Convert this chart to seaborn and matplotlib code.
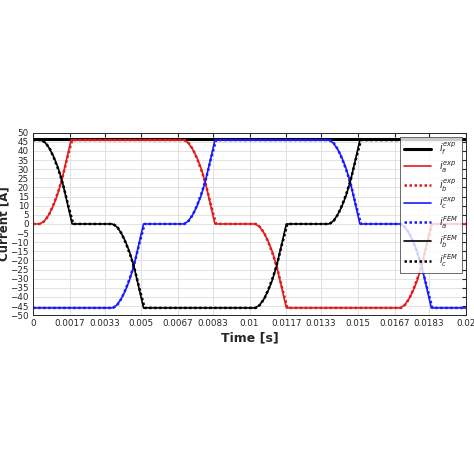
import numpy as np
import pandas as pd
import matplotlib
matplotlib.use("Agg")
import matplotlib.pyplot as plt
import seaborn as sns

sns.set_style("white")
plt.rcParams['font.family'] = ['DejaVu Sans']

# transition shape (ms offsets, fraction of step)
shape_off = [0, 0.2, 0.4, 0.6, 0.8, 1.0, 1.2, 1.45]
shape_exp = [0, 0.03, 0.10, 0.20, 0.33, 0.50, 0.72, 1.0]
shape_fem = [0, 0.04, 0.12, 0.24, 0.38, 0.55, 0.76, 1.0]

# (end time ms, from level, to level)
a_steps = [(1.75, 0, 46), (8.4, 46, 0), (11.7, 0, -46), (18.4, -46, 0)]
b_steps = [(1.8, 46, 0), (5.1, 0, -46), (11.7, -46, 0), (15.1, 0, 46)]
c_steps = [(5.1, -46, 0), (8.4, 0, 46), (15.1, 46, 0), (18.4, 0, -46)]
a_init, b_init, c_init = 0, 46, -46
if_level = 46.3
t_end = 20.0

def build(init, steps, shape, shift):
    t = [0.0]; v = [init]
    for end, f, to in steps:
        s = end + shift - shape_off[-1]
        for o, fr in zip(shape_off, shape):
            t.append(s + o); v.append(f + (to - f) * fr)
    t.append(t_end); v.append(v[-1])
    return np.array(t) / 1000, np.array(v)

fig = plt.figure(figsize=(4.74, 4.74), dpi=100)
ax = fig.add_axes([0.07, 0.335, 0.913, 0.385])

DOT = (0, (1, 1))
series = [
    ("$i_f^{exp}$", [0, t_end / 1000], [if_level, if_level], "black", "-", 2.2),
]
ta, va = build(a_init, a_steps, shape_exp, 0)
tb, vb = build(a_init, a_steps, shape_fem, 0.05)
series.append(("$i_a^{exp}$", ta, va, "#e41a1c", "-", 1.2))
series.append(("$i_b^{exp}$", tb, vb, "#e41a1c", DOT, 1.8))
tc, vc = build(c_init, c_steps, shape_exp, 0)
tcf, vcf = build(c_init, c_steps, shape_fem, 0.05)
series.append(("$i_c^{exp}$", tc, vc, "#1a1aff", "-", 1.2))
series.append(("$i_a^{FEM}$", tcf, vcf, "#1a1aff", DOT, 1.8))
tbb, vbb = build(b_init, b_steps, shape_exp, 0)
tbf, vbf = build(b_init, b_steps, shape_fem, 0.05)
series.append(("$i_b^{FEM}$", tbb, vbb, "black", "-", 1.2))
series.append(("$i_c^{FEM}$", tbf, vbf, "black", DOT, 1.8))

for lab, t, v, col, ls, lw in series:
    sns.lineplot(x=t, y=v, ax=ax, color=col, linestyle=ls, linewidth=lw,
                 label=lab, sort=False, estimator=None)

xt = [0, 0.0017, 0.0033, 0.005, 0.0067, 0.0083, 0.01, 0.0117, 0.0133,
      0.015, 0.0167, 0.0183, 0.02]
ax.set_xticks(xt)
ax.set_xticklabels(["0", "0.0017", "0.0033", "0.005", "0.0067", "0.0083", "0.01",
                    "0.0117", "0.0133", "0.015", "0.0167", "0.0183", "0.02"])
ax.set_yticks(range(-50, 51, 5))
ax.set_xlim(0, 0.02)
ax.set_ylim(-50, 50)
ax.tick_params(direction="in", labelsize=6.3, length=3, top=True, right=True,
               colors="#262626", pad=3)
ax.grid(True, color="#dddddd", linewidth=0.6)
for s in ax.spines.values():
    s.set_color("#262626"); s.set_linewidth(0.7)
ax.set_xlabel("Time [s]", fontsize=9, fontweight="bold", labelpad=2)
ax.set_ylabel("Current [A]", fontsize=8.5, fontweight="bold", labelpad=0)
leg = ax.legend(loc="upper right", fontsize=7, frameon=True, fancybox=False,
                borderaxespad=0.4, handlelength=2.8, labelspacing=0.25)
leg.get_frame().set_edgecolor("#262626")
leg.get_frame().set_linewidth(0.6)
fig.savefig("out.png", dpi=100)
